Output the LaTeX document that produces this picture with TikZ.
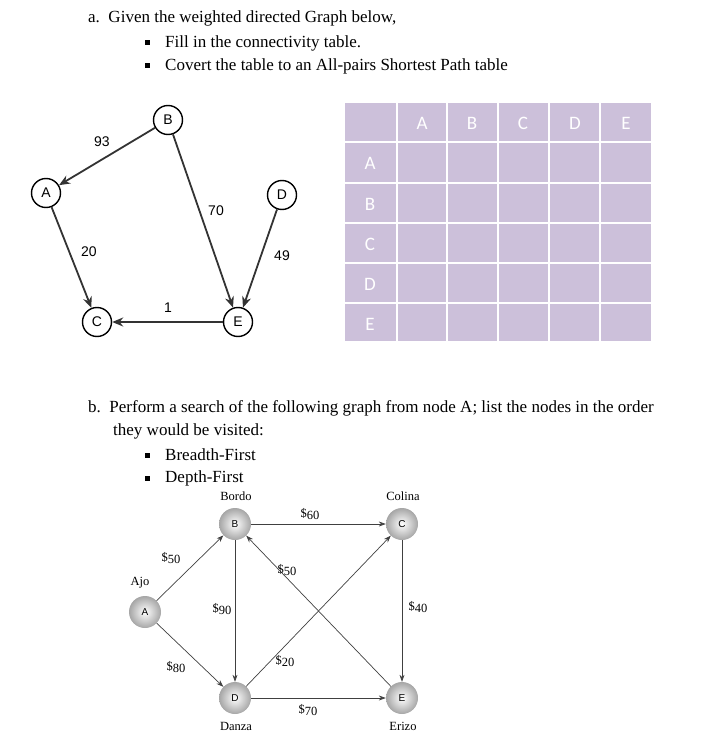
\documentclass[tikz,border=0pt]{standalone}
\usepackage{fontspec}
\setmainfont{Liberation Serif}
\newfontfamily\ssf{Liberation Sans}
\newfontfamily\calfont{Carlito}
\usetikzlibrary{arrows.meta}
\definecolor{lav}{HTML}{CCC0DA}
\begin{document}
\begin{tikzpicture}[x=1pt,y=-1pt,
  txt/.style={anchor=west,inner sep=0pt,font=\fontsize{17}{20}\selectfont},
  bul/.style={inner sep=0pt,fill=black,minimum size=5pt},
  gnode/.style={circle,draw,line width=1.4pt,minimum size=29pt,inner sep=0pt,font=\ssf\fontsize{14}{14}\selectfont},
  garr/.style={line width=1.8pt,draw=black!80,-{Stealth[length=11pt,width=9pt]}},
  glab/.style={font=\ssf\fontsize{14}{14}\selectfont},
  ball/.style={circle,minimum size=32pt,inner sep=0pt,inner color=white,outer color=black!35,font=\ssf\fontsize{10}{10}\selectfont},
  barr/.style={line width=0.7pt,draw=black!75,-{Stealth[length=7pt,width=5pt]}},
  blab/.style={font=\fontsize{12.5}{12}\selectfont},
  cell/.style={fill=lav,draw=white,line width=1.5pt},
  tl/.style={text=white,font=\calfont\fontsize{19}{19}\selectfont}]
\useasboundingbox (0,0) rectangle (716,754);
% text part a
\node[txt] (ta) at (88,18) {a.\ \ Given the weighted directed Graph below,};
\node[bul] (b1) at (147,43) {}; \node[txt] (t1) at (165,43) {Fill in the connectivity table.};
\node[bul] (b2) at (147,66) {}; \node[txt] (t2) at (165,66) {Covert the table to an All-pairs Shortest Path table};
% graph a
\node[gnode] (B) at (168,120) {B};
\node[gnode] (A) at (46,193) {A};
\node[gnode] (D) at (282,195) {D};
\node[gnode] (C) at (97,322) {C};
\node[gnode] (E) at (238,322) {E};
\draw[garr] (B) -- (A); \draw[garr] (B) -- (E); \draw[garr] (A) -- (C);
\draw[garr] (D) -- (E); \draw[garr] (E) -- (C);
\node[glab] (l93) at (102,142) {93}; \node[glab] (l70) at (216,211) {70};
\node[glab] (l20) at (89,252) {20}; \node[glab] (l49) at (282,256) {49};
\node[glab] (l1) at (168,308) {1};
% table
\foreach \c/\x/\w in {0/344/53,1/397/50,2/447/51,3/498/51,4/549/51,5/600/52}{
  \foreach \r/\y/\h in {0/102/40,1/142/41,2/183/40,3/223/40,4/263/40,5/303/39}{
    \path[cell] (\x,\y) rectangle ++(\w,\h);}}
\foreach \n/\x in {A/422,B/472,C/523,D/575,E/626}{\node[tl] (h\n) at (\x,123) {\n};}
\foreach \n/\y in {A/163,B/204,C/244,D/284,E/324}{\node[tl] (r\n) at (370,\y) {\n};}
% text part b
\node[txt] (tb) at (88,408) {b.\ \ Perform a search of the following graph from node A; list the nodes in the order};
\node[txt] (tb2) at (113,431) {they would be visited:};
\node[bul] (b3) at (147,455) {}; \node[txt] (t3) at (165,455) {Breadth-First};
\node[bul] (b4) at (147,478) {}; \node[txt] (t4) at (165,478) {Depth-First};
% graph b
\node[ball] (gA) at (145,612) {A};
\node[ball] (gB) at (235,524) {B};
\node[ball] (gC) at (402,524) {C};
\node[ball] (gD) at (235,698) {D};
\node[ball] (gE) at (402,698) {E};
\draw[barr] (gA) -- (gB); \draw[barr] (gA) -- (gD); \draw[barr] (gB) -- (gC);
\draw[barr] (gB) -- (gD); \draw[barr] (gC) -- (gE); \draw[barr] (gD) -- (gC);
\draw[barr] (gD) -- (gE); \draw[barr] (gE) -- (gB);
\node[blab] (nB) at (236,496) {Bordo}; \node[blab] (nC) at (403,496) {Colina};
\node[blab] (nA) at (140,583) {Ajo}; \node[blab] (nD) at (236,726) {Danza};
\node[blab] (nE) at (403,726) {Erizo};
\foreach \t/\x/\y in {50/171/558,60/310/514,50/287/570,90/222/609,40/418/607,80/176/667,20/285/661,70/308/710}{
  \node[blab] at (\x,\y) {\$\raisebox{-2.5pt}{\t}};}
\end{tikzpicture}
\end{document}
